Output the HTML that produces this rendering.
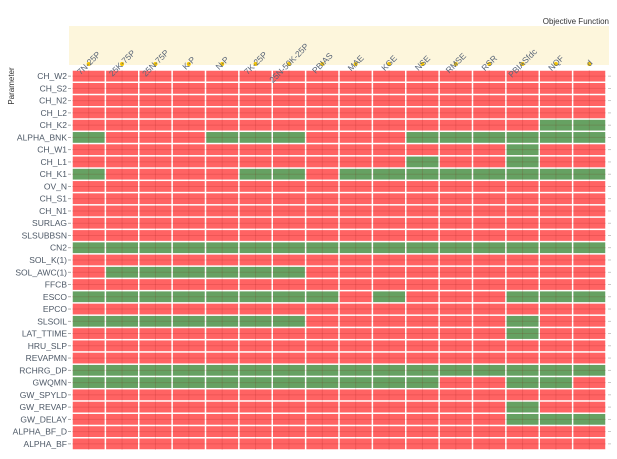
<!DOCTYPE html>
<html><head><meta charset="utf-8"><style>
body{margin:0;background:#fff;}
svg{display:block;font-family:"Liberation Sans",Arial,sans-serif;}
</style></head><body>
<svg id="chart" width="617" height="459" viewBox="0 0 617 459">
<rect x="69" y="26" width="540" height="39" fill="#fdf6dc"/>
<text x="609" y="24" text-anchor="end" font-size="8" fill="#333">Objective Function</text>
<text transform="translate(14,86) rotate(-90)" text-anchor="middle" font-size="8" fill="#333">Parameter</text>
<g id="cells"></g>
<g id="grid"></g>
<g id="ylabels"></g>
<g id="xlabels"></g>
</svg>
<script>
const columns = ["7N-25P","25K-75P","25N-75P","K-P","N-P","7K-25P","25N-50K-25P","PBIAS","MAE","KGE","NSE","RMSE","RSR","PBIASfdc","NQF","d"];
const parameters = ["CH_W2","CH_S2","CH_N2","CH_L2","CH_K2","ALPHA_BNK","CH_W1","CH_L1","CH_K1","OV_N","CH_S1","CH_N1","SURLAG","SLSUBBSN","CN2","SOL_K(1)","SOL_AWC(1)","FFCB","ESCO","EPCO","SLSOIL","LAT_TTIME","HRU_SLP","REVAPMN","RCHRG_DP","GWQMN","GW_SPYLD","GW_REVAP","GW_DELAY","ALPHA_BF_D","ALPHA_BF"];
const sensitive = [
"0000000000000000",
"0000000000000000",
"0000000000000000",
"0000000000000000",
"0000000000000011",
"1000111000111111",
"0000000000000100",
"0000000000100100",
"1000011011111111",
"0000000000000000",
"0000000000000000",
"0000000000000000",
"0000000000000000",
"0000000000000000",
"1111111111111111",
"0000000000000000",
"0111111000000000",
"0000000000000000",
"1111111101000111",
"0000000000000000",
"1111111000000100",
"0000000000000100",
"0000000000000000",
"0000000000000000",
"1111111111111111",
"1111111111100110",
"0000000000000000",
"0000000000000100",
"0000000000000111",
"0000000000000000",
"0000000000000000"];

const NS="http://www.w3.org/2000/svg";
const L=72,R=606,T=70,B=450;
const cw=(R-L)/columns.length, rh=(B-T)/parameters.length;
const xPos=i=>L+i*cw, yPos=j=>T+j*rh;
const cells=document.getElementById('cells'),grid=document.getElementById('grid'),yl=document.getElementById('ylabels'),xl=document.getElementById('xlabels');
function mk(t,a){const e=document.createElementNS(NS,t);for(const k in a)e.setAttribute(k,a[k]);return e;}
parameters.forEach((p,j)=>{
  columns.forEach((c,i)=>{
    const v=sensitive[j][i]==='1';
    const r=mk('rect',{x:xPos(i)+0.75,y:yPos(j)+0.75,width:cw-1.5,height:rh-1.5,fill:v?'#66a162':'#ff6363'});
    
    
    cells.appendChild(r);
  });
  const gl=mk('line',{x1:L,x2:R,y1:yPos(j)+rh/2,y2:yPos(j)+rh/2,stroke:'rgba(120,0,0,0.13)','stroke-width':1});
  
  
  grid.appendChild(gl);
  const tk=mk('line',{x1:L-4,x2:L-1,y1:yPos(j)+rh/2,y2:yPos(j)+rh/2,stroke:'#999','stroke-width':0.8});
  
  
  yl.appendChild(tk);
  const tk2=mk('line',{x1:R+2,x2:R+5,y1:yPos(j)+rh/2,y2:yPos(j)+rh/2,stroke:'#bbb','stroke-width':0.8});
  
  
  yl.appendChild(tk2);
  const t=mk('text',{x:L-5,y:yPos(j)+rh/2+3,'text-anchor':'end','font-size':8.5,fill:'#4d5866'});
  t.textContent=p;
  
  
  yl.appendChild(t);
});
columns.forEach((c,i)=>{
  const cx=xPos(i)+cw/2;
  const gl=mk('line',{x1:cx,x2:cx,y1:T,y2:B,stroke:'rgba(120,0,0,0.13)','stroke-width':1});
  
  
  grid.appendChild(gl);
  const d=mk('circle',{cx:cx,cy:64,r:2,fill:'#f5c400'});
  
  
  xl.appendChild(d);
  const t=mk('text',{x:0,y:3,'text-anchor':'middle','font-size':8.5,fill:'#5a6678',transform:'translate('+cx+',63) rotate(-45)'});
  t.textContent=c;
  
  
  xl.appendChild(t);
});
</script>
</body></html>
